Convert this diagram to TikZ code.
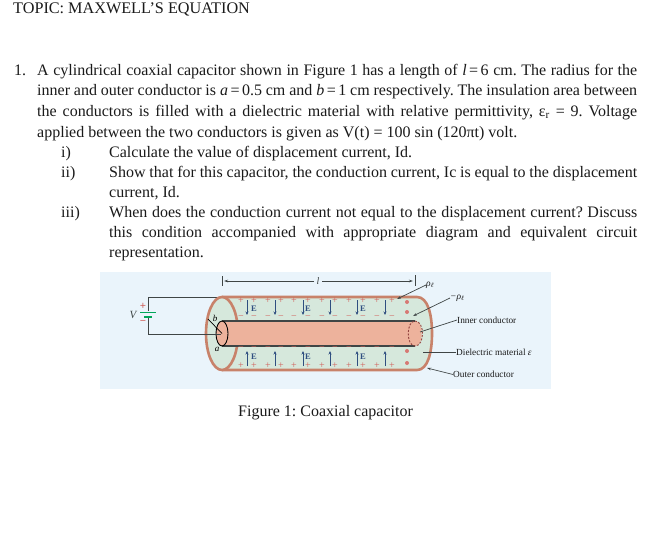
\documentclass[tikz,border=0pt]{standalone}
\usepackage{fontspec}
\setmainfont{Liberation Serif}
\usetikzlibrary{arrows.meta}
\frenchspacing
\definecolor{bgblue}{HTML}{EAF4FB}
\definecolor{diel}{HTML}{D6E8DC}
\definecolor{cond}{HTML}{EDB29C}
\definecolor{rim}{HTML}{C8826A}
\definecolor{wire}{HTML}{3F4545}
\definecolor{chg}{HTML}{D0605A}
\definecolor{efield}{HTML}{2F4F80}
\definecolor{txtc}{HTML}{1A1A1A}
\newcommand{\jl}[2]{\makebox[#1pt][s]{#2}}
\newcommand{\eqs}{\kern2.5pt=\kern2.5pt}
\tikzset{
 x=1pt,y=-1pt,
 txt/.style={anchor=base west,inner sep=0pt,font=\fontsize{16}{16}\selectfont,text=txtc},
 small/.style={anchor=west,inner sep=0pt,font=\fontsize{9.3}{10}\selectfont,text=txtc},
 charge/.style={inner sep=0pt,font=\fontsize{10}{10}\selectfont,text=chg},
 elabel/.style={inner sep=0pt,font=\fontsize{8.5}{9}\selectfont\bfseries,text=efield},
 efarrow/.style={draw=efield,line width=0.9pt,-{Stealth[length=3.5pt,width=3pt]}},
 leader/.style={draw=wire,line width=0.7pt},
 leaderarrow/.style={leader,-{Stealth[length=4pt,width=2.5pt]}},
 wireline/.style={draw=wire,line width=1pt},
}
\begin{document}
\begin{tikzpicture}
\useasboundingbox (0,0) rectangle (657,542);
\fill[white] (0,0) rectangle (657,542);
% text
\node[txt,font=\fontsize{16.2}{16}\selectfont] (title) at (13,13) {TOPIC: MAXWELL’S EQUATION};
\node[txt] (n1) at (14,75) {1.};
\node[txt] (l1) at (37,75) {\jl{600}{A cylindrical coaxial capacitor shown in Figure 1 has a length of \textit{l}\eqs 6 cm. The radius for the}};
\node[txt] (l2) at (37,95) {\jl{600}{inner and outer conductor is \textit{a}\eqs 0.5 cm and \textit{b}\eqs 1 cm respectively. The insulation area between}};
\node[txt] (l3) at (37,116) {\jl{600}{the conductors is filled with a dielectric material with relative permittivity, ε\textsubscript{r} = 9. Voltage}};
\node[txt] (l4) at (37,137) {applied between the two conductors is given as V(t) = 100 sin (120πt) volt.};
\node[txt] (i1) at (61,157) {i)};
\node[txt] (i1t) at (109,157) {Calculate the value of displacement current, Id.};
\node[txt] (i2) at (61,177) {ii)};
\node[txt] (i2t) at (109,177) {\jl{528}{Show that for this capacitor, the conduction current, Ic is equal to the displacement}};
\node[txt] (i2u) at (109,197) {current, Id.};
\node[txt] (i3) at (61,217) {iii)};
\node[txt] (i3t) at (109,217) {\jl{528}{When does the conduction current not equal to the displacement current? Discuss}};
\node[txt] (i3u) at (109,237) {\jl{528}{this condition accompanied with appropriate diagram and equivalent circuit}};
\node[txt] (i3v) at (109,257) {representation.};
\node[txt] (cap) at (238,416) {Figure 1: Coaxial capacitor};
% figure background
\fill[bgblue] (100,272) rectangle (551,389);
% wires
\coordinate (wt) at (222,297);
\coordinate (wb) at (222,334);
\coordinate (batp) at (148,311);
\coordinate (batn) at (148,316);
\draw[wireline] (batp) -- (148,297) -- (wt);
\draw[wireline] (batn) -- (148,334) -- (wb);
\draw[draw=teal!70!green,line width=1.3pt] (140,312.5) -- (156,312.5);
\draw[draw=teal!70!green,line width=1.3pt] (144,317) -- (152,317);
\node[charge,font=\fontsize{11}{11}\selectfont\bfseries] (bp) at (143,306) {+};
\node[charge,font=\fontsize{11}{11}\selectfont\bfseries] (bm) at (143,322) {−};
\node[inner sep=0pt,font=\fontsize{11}{11}\selectfont\itshape,text=wire] (V) at (133,315) {V};
% cylinder
\draw[fill=diel,draw=rim,line width=2.6pt] (222,297) -- (417,297)
  .. controls (428,297) and (432,315) .. (432,333.5)
  .. controls (432,352) and (428,370) .. (417,370)
  -- (222,370);
\draw[draw=rim,line width=2.6pt,fill=diel] (222,333.5) ellipse [x radius=16,y radius=36.5];
% inner conductor
\fill[cond] (222,321) rectangle (415,346);
\fill[cond] (415,321) .. controls (424,321) and (424,346) .. (415,346) -- cycle;
\draw[wire,line width=1.1pt] (222,321) -- (415,321);
\draw[wire,line width=1.1pt] (222,346) -- (415,346);
\draw[draw=chg!70!black,line width=0.9pt,dash pattern=on 2pt off 1.5pt] (415,321) .. controls (425,321) and (425,346) .. (415,346) .. controls (406,346) and (406,321) .. (415,321);
\draw[draw=black,line width=0.9pt,fill=cond] (222,333.5) ellipse [x radius=6,y radius=12.5];
\draw[wireline] (148,334) -- (221,334);
\draw[draw=black,line width=0.7pt] (208,319) -- (222,333.5);
\node[inner sep=0pt,font=\fontsize{9}{9}\selectfont\itshape] (b) at (215,318) {b};
\node[inner sep=0pt,font=\fontsize{9}{9}\selectfont\itshape] (a) at (217,349) {a};
% charges
\foreach \x in {241,254,268,281,294,308,322,335,349,363,377,392} {
  \node[charge] at (\x,301) {+};
  \node[charge] at (\x,318) {−};
  \node[charge] at (\x,349) {−};
  \node[charge] at (\x,366) {+};
}
\foreach \y in {302,312,351,363} {
  \fill[chg!85!white] (407,\y) circle (2);
}
% field arrows
\foreach \x in {247,275,303,330,357,385} {
  \draw[efarrow] (\x,300) -- (\x,315);
  \draw[efarrow] (\x,366) -- (\x,351);
}
\foreach \x in {254,308,363} {
  \node[elabel] at (\x,308.5) {E};
  \node[elabel] at (\x,356.5) {E};
}
% dimension line
\node[inner sep=0pt,font=\fontsize{10}{10}\selectfont\itshape,text=wire] (ll) at (318,281) {l};
\coordinate (dl) at (224,281);
\coordinate (dr) at (413,281);
\draw[leaderarrow] (ll) ++(-4,0) -- (dl);
\draw[leaderarrow] (ll) ++(4,0) -- (dr);
\draw[leader] (222,276) -- (222,286);
\draw[leader] (415,275) -- (415,286);
% labels
\node[small,font=\fontsize{9.5}{10}\selectfont\itshape] (rho) at (426,285) {ρ\textsubscript{ℓ}};
\node[small,font=\fontsize{9.5}{10}\selectfont\itshape] (mrho) at (450,298) {−ρ\textsubscript{ℓ}};
\node[small] (inner) at (457,320) {Inner conductor};
\node[small] (dielL) at (456,352) {Dielectric material \textit{ε}};
\node[small] (outer) at (453,374.5) {Outer conductor};
\coordinate (trho) at (397,299);
\coordinate (tmrho) at (413,316);
\coordinate (tinner) at (420,332);
\coordinate (tdiel) at (423,352);
\coordinate (touter) at (427,368);
\draw[leaderarrow] (rho.west) -- (trho);
\draw[leaderarrow] (mrho.west) -- (tmrho);
\draw[leader] (inner.west) -- (tinner);
\draw[leader] (dielL.west) -- (tdiel);
\draw[leaderarrow] (outer.west) -- (touter);
\end{tikzpicture}
\end{document}
